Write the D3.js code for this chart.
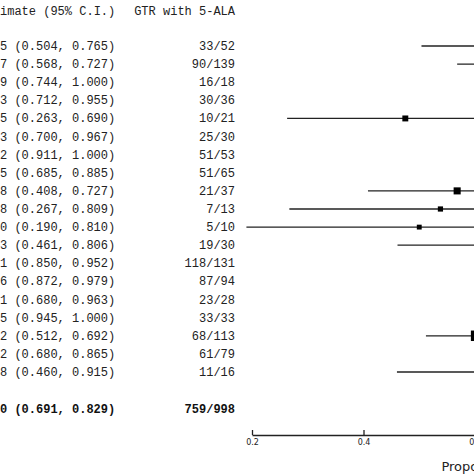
<!DOCTYPE html>
<html><head><meta charset="utf-8">
<script src="https://cdn.jsdelivr.net/npm/d3@7"></script>
<style>body{margin:0;background:#fff}</style></head>
<body><svg id="c" width="474" height="474"></svg>
<script>
const est = [0.635,0.647,0.889,0.833,0.475,0.833,0.962,0.785,0.568,0.538,0.500,0.633,0.901,0.926,0.821,0.985,0.602,0.772,0.688];
const lo  = [0.504,0.568,0.744,0.712,0.263,0.700,0.911,0.685,0.408,0.267,0.190,0.461,0.850,0.872,0.680,0.945,0.512,0.680,0.460];
const hi  = [0.765,0.727,1.000,0.955,0.690,0.967,1.000,0.885,0.727,0.809,0.810,0.806,0.952,0.979,0.963,1.000,0.692,0.865,0.915];
const events = [33,90,16,30,10,25,51,51,21,7,5,19,118,87,23,33,68,61,11];
const totals = [52,139,18,36,21,30,53,65,37,13,10,30,131,94,28,33,113,79,16];
const pooled = {est:0.760, lo:0.691, hi:0.829, ev:759, n:998};
const ticks = [0.2,0.4,0.6,0.8,1.0];

const svg = d3.select("#c");
const x = d3.scaleLinear().domain([0.2,1.0]).range([252,698]);
const y = d3.scaleLinear().domain([0,18]).range([46,372]);
const yPooled = 409;
const mono = "'Liberation Mono', 'Courier New', monospace";
const f = d3.format(".3f");

svg.append("text").attr("x",-21.6).attr("y",15).attr("font-family",mono).attr("font-size",12)
  .attr("fill","#222").attr("xml:space","preserve").text("Estimate (95% C.I.)");
svg.append("text").attr("x",235).attr("y",15).attr("text-anchor","end").attr("font-family",mono)
  .attr("font-size",12).attr("fill","#222").text("GTR with 5-ALA");

const rows = est.map((e,i)=>({e,l:lo[i],h:hi[i],ev:events[i],n:totals[i],i}));
const g = svg.append("g");
rows.forEach(r=>{
  g.append("text").attr("x",-28.8).attr("y",y(r.i)+4).attr("font-family",mono).attr("font-size",12)
   .attr("fill","#222").text(`${f(r.e)} (${f(r.l)}, ${f(r.h)})`);
  g.append("text").attr("x",235).attr("y",y(r.i)+4).attr("text-anchor","end").attr("font-family",mono)
   .attr("font-size",12).attr("fill","#222").text(`${r.ev}/${r.n}`);
  g.append("line").attr("x1",x(r.l)).attr("x2",x(r.h)).attr("y1",y(r.i)).attr("y2",y(r.i))
   .attr("stroke","#222").attr("stroke-width",1.3);
  const s = 2.5+0.75*Math.sqrt(r.n);
  g.append("rect").attr("x",x(r.e)-s/2).attr("y",y(r.i)-s/2).attr("width",s).attr("height",s).attr("fill","#000");
});
svg.append("text").attr("x",-28.8).attr("y",yPooled+4).attr("font-family",mono).attr("font-size",12)
  .attr("font-weight","bold").attr("fill","#111").text(`${f(pooled.est)} (${f(pooled.lo)}, ${f(pooled.hi)})`);
svg.append("text").attr("x",235).attr("y",yPooled+4).attr("text-anchor","end").attr("font-family",mono)
  .attr("font-size",12).attr("font-weight","bold").attr("fill","#111").text(`${pooled.ev}/${pooled.n}`);
svg.append("path").attr("d",`M${x(pooled.lo)},${yPooled}L${x(pooled.est)},${yPooled-6}L${x(pooled.hi)},${yPooled}L${x(pooled.est)},${yPooled+6}Z`).attr("fill","#000");

const ax = svg.append("g").attr("transform","translate(0,435)")
  .call(d3.axisBottom(x).tickValues(ticks).tickFormat(d3.format(".1f")).tickSize(5).tickSizeOuter(0));
ax.select(".domain").attr("stroke","#222").attr("stroke-width",1.3);
ax.selectAll(".tick line").attr("stroke","#222").attr("stroke-width",1.3).attr("y2",5).attr("transform","translate(0,-5)");
ax.selectAll("text").attr("font-family","'DejaVu Sans', sans-serif").attr("font-size",8).attr("fill","#222").attr("dy","0.2em");
svg.append("text").attr("x",x(0.6)).attr("y",471).attr("text-anchor","middle")
  .attr("font-family","'DejaVu Sans', sans-serif").attr("font-size",13).attr("fill","#222").text("Proportion");
</script></body></html>
